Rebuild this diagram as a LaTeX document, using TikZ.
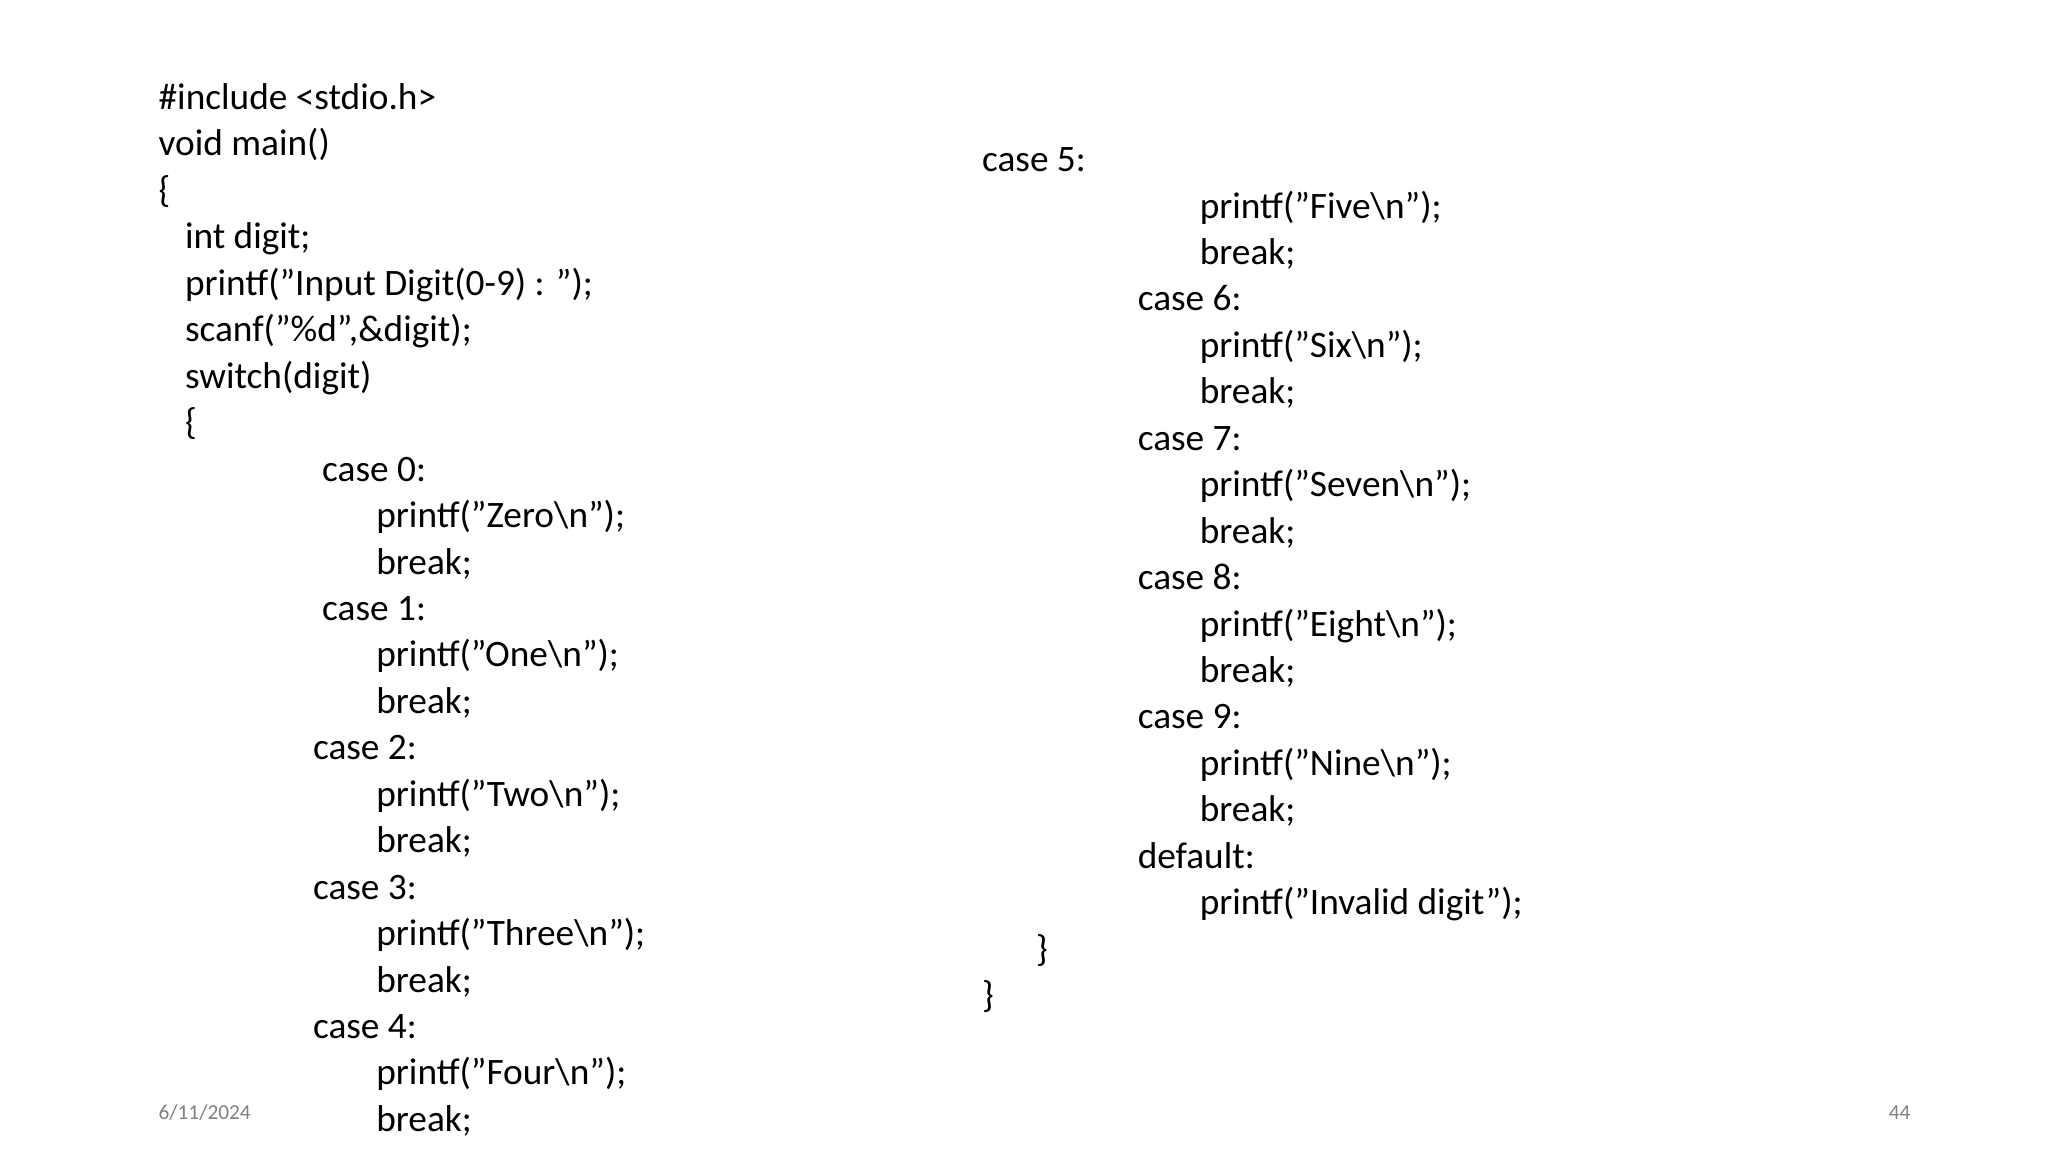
\documentclass[tikz,border=0pt]{standalone}
\usepackage{fontspec}
\setmainfont{Carlito}
\tikzset{codeline/.style={anchor=base west,inner sep=0pt,font=\fontsize{28}{34}\selectfont}}
\begin{document}
\begin{tikzpicture}[x=0.99pt,y=0.99pt,yscale=-1,xscale=1]
\useasboundingbox (0,0) rectangle (1552,873);

% Left column
\draw (120,83) node [codeline] (l0) {\#include <stdio.h>};
\draw (120,118.2) node [codeline] (l1) {void main()};
\draw (120,153.4) node [codeline] (l2) {\{};
\draw (140,188.6) node [codeline] (l3) {int digit;};
\draw (140,223.8) node [codeline] (l4) {printf("Input Digit(0-9) : ");};
\draw (140,259) node [codeline] (l5) {scanf("\%d",\&digit);};
\draw (140,294.2) node [codeline] (l6) {switch(digit)};
\draw (140,329.4) node [codeline] (l7) {\{};
\draw (244,364.6) node [codeline] (l8) {case 0:};
\draw (285,399.8) node [codeline] (l9) {printf("Zero\textbackslash n");};
\draw (285,435) node [codeline] (l10) {break;};
\draw (244,470.2) node [codeline] (l11) {case 1:};
\draw (285,505.4) node [codeline] (l12) {printf("One\textbackslash n");};
\draw (285,540.6) node [codeline] (l13) {break;};
\draw (237,575.8) node [codeline] (l14) {case 2:};
\draw (285,611) node [codeline] (l15) {printf("Two\textbackslash n");};
\draw (285,646.2) node [codeline] (l16) {break;};
\draw (237,681.4) node [codeline] (l17) {case 3:};
\draw (285,716.6) node [codeline] (l18) {printf("Three\textbackslash n");};
\draw (285,751.8) node [codeline] (l19) {break;};
\draw (237,787) node [codeline] (l20) {case 4:};
\draw (285,822.2) node [codeline] (l21) {printf("Four\textbackslash n");};
\draw (285,857.4) node [codeline] (l22) {break;};

% Right column
\draw (744,130) node [codeline] (r0) {case 5:};
\draw (909,165.2) node [codeline] (r1) {printf("Five\textbackslash n");};
\draw (909,200.4) node [codeline] (r2) {break;};
\draw (862,235.6) node [codeline] (r3) {case 6:};
\draw (909,270.8) node [codeline] (r4) {printf("Six\textbackslash n");};
\draw (909,306) node [codeline] (r5) {break;};
\draw (862,341.2) node [codeline] (r6) {case 7:};
\draw (909,376.4) node [codeline] (r7) {printf("Seven\textbackslash n");};
\draw (909,411.6) node [codeline] (r8) {break;};
\draw (862,446.8) node [codeline] (r9) {case 8:};
\draw (909,482) node [codeline] (r10) {printf("Eight\textbackslash n");};
\draw (909,517.2) node [codeline] (r11) {break;};
\draw (862,552.4) node [codeline] (r12) {case 9:};
\draw (909,587.6) node [codeline] (r13) {printf("Nine\textbackslash n");};
\draw (909,622.8) node [codeline] (r14) {break;};
\draw (862,658) node [codeline] (r15) {default:};
\draw (909,693.2) node [codeline] (r16) {printf("Invalid digit");};
\draw (785,728.4) node [codeline] (r17) {\}};
\draw (744,763.6) node [codeline] (r18) {\}};

% Footer
\draw (120,848) node [anchor=base west,inner sep=0pt,font=\fontsize{16}{19}\selectfont,text=gray] (date) {6/11/2024};
\draw (1448,848) node [anchor=base east,inner sep=0pt,font=\fontsize{16}{19}\selectfont,text=gray] (page) {44};

\end{tikzpicture}
\end{document}
